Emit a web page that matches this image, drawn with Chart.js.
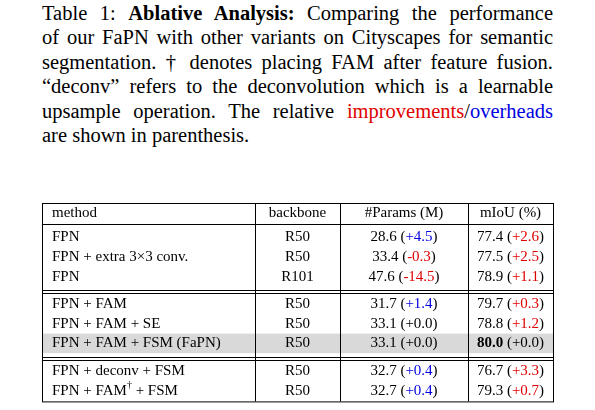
<!DOCTYPE html>
<html><head><meta charset="utf-8">
<script src="https://cdn.jsdelivr.net/npm/chart.js@4"></script>
<style>
body{margin:0;background:#fff;width:595px;height:410px;overflow:hidden;font-family:"Liberation Serif","Times New Roman",serif;}
#cap{position:absolute;left:42px;top:1px;width:511px;font-size:20.5px;line-height:24.4px;color:#000;}
#cap div{text-align:justify;text-align-last:justify;white-space:nowrap;}
#cap div.last{text-align-last:left;}
.r{color:#e00000}.b{color:#0000e0}
#wrap{position:absolute;left:0;top:195px;width:595px;height:215px;}
</style></head><body>
<div id="cap">
<div>Table 1: <b>Ablative Analysis:</b> Comparing the performance</div>
<div>of our FaPN with other variants on Cityscapes for semantic</div>
<div>segmentation. † denotes placing FAM after feature fusion.</div>
<div>“deconv” refers to the deconvolution which is a learnable</div>
<div>upsample operation. The relative <span class="r">improvements</span>/<span class="b">overheads</span></div>
<div class="last">are shown in parenthesis.</div>
</div>
<div id="wrap"><canvas id="c"></canvas></div>
<script>
const headers = ["method","backbone","#Params (M)","mIoU (%)"];
const methods = ["FPN","FPN + extra 3×3 conv.","FPN","FPN + FAM","FPN + FAM + SE","FPN + FAM + FSM (FaPN)","FPN + deconv + FSM","FPN + FAM† + FSM"];
const backbones = ["R50","R50","R101","R50","R50","R50","R50","R50"];
const params = [28.6,33.4,47.6,31.7,33.1,33.1,32.7,32.7];
const paramsDelta = ["+4.5","-0.3","-14.5","+1.4","+0.0","+0.0","+0.4","+0.4"];
const miou = [77.4,77.5,78.9,79.7,78.8,80.0,76.7,79.3];
const miouDelta = ["+2.6","+2.5","+1.1","+0.3","+1.2","+0.0","+3.3","+0.7"];
const groups = [3,3,2];
const highlightRow = 5;

function deltaColor(s, kind){
  if (s==="+0.0") return "#000";
  if (kind==="p") return s.startsWith("+") ? "#0000e0" : "#e00000";
  return "#e00000";
}
const tablePlugin = {
  id:'table',
  afterDraw(chart){
    const ctx = chart.ctx;
    const L=42, R=553, top=8, rh=19.6, gap=6;
    const cols=[L,255,340,468,R];
    const font = '15px "Liberation Serif", serif';
    const small = '10px "Liberation Serif", serif';
    ctx.save();
    ctx.textBaseline='middle';
    ctx.font=font;
    let y=top+rh/2; const ys=[];
    const headerY=y; y+=rh+gap/2;
    const seps=[top+rh+1];
    groups.forEach((g,gi)=>{
      for(let k=0;k<g;k++){ys.push(y+2); y+=rh;}
      if(gi<groups.length-1){seps.push(y-rh/2+gap); y+=gap+2;}
    });
    const bottom=ys[ys.length-1]+rh/2+1;
    ctx.fillStyle='#d9d9d9';
    ctx.fillRect(L,ys[highlightRow]-rh/2,R-L,rh);
    ctx.strokeStyle='#000';ctx.lineWidth=1;
    ctx.strokeRect(L+0.5,top+0.5,R-L,bottom-top);
    [cols[1],cols[2],cols[3]].forEach(x=>{ctx.beginPath();ctx.moveTo(x+0.5,top);ctx.lineTo(x+0.5,bottom);ctx.stroke();});
    seps.forEach((s,i)=>{const yy=Math.round(s)+0.5;ctx.beginPath();ctx.moveTo(L,yy);ctx.lineTo(R,yy);ctx.stroke();
      if(i>0){ctx.beginPath();ctx.moveTo(L,yy+3);ctx.lineTo(R,yy+3);ctx.stroke();}});
    ctx.fillStyle='#000';
    function drawPieces(pieces,x0,cy,center){
      let w=0;pieces.forEach(p=>{ctx.font=p.f||font;w+=ctx.measureText(p.t).width;});
      let x=center? x0-w/2 : x0;
      pieces.forEach(p=>{ctx.font=p.f||font;ctx.fillStyle=p.c||'#000';ctx.textAlign='left';ctx.fillText(p.t,x,cy+(p.dy||0));x+=ctx.measureText(p.t).width;});
      ctx.font=font;ctx.fillStyle='#000';
    }
    drawPieces([{t:headers[0]}],L+10,headerY,false);
    for(let c=1;c<4;c++) drawPieces([{t:headers[c]}],(cols[c]+cols[c+1])/2,headerY,true);
    methods.forEach((m,i)=>{
      const cy=ys[i];
      const parts=m.split('†');
      const pieces = parts.length>1 ? [{t:parts[0]},{t:'†',f:small,dy:-5},{t:parts[1]}] : [{t:m}];
      drawPieces(pieces,L+10,cy,false);
      drawPieces([{t:backbones[i]}],(cols[1]+cols[2])/2,cy,true);
      drawPieces([{t:params[i].toFixed(1)+' ('},{t:paramsDelta[i],c:deltaColor(paramsDelta[i],'p')},{t:')'}],(cols[2]+cols[3])/2,cy,true);
      const bold = i===highlightRow ? 'bold 15px "Liberation Serif", serif' : font;
      drawPieces([{t:miou[i].toFixed(1),f:bold},{t:' ('},{t:miouDelta[i],c:deltaColor(miouDelta[i],'m')},{t:')'}],(cols[3]+cols[4])/2,cy,true);
    });
    ctx.restore();
  }
};
new Chart(document.getElementById('c'),{
  type:'bar',
  data:{labels:methods,datasets:[{data:miou,backgroundColor:'rgba(0,0,0,0)'}]},
  options:{responsive:true,maintainAspectRatio:false,animation:false,
    layout:{padding:0},
    plugins:{legend:{display:false},tooltip:{enabled:false}},
    scales:{x:{display:false},y:{display:false}}},
  plugins:[tablePlugin]
});
</script>
</body></html>
